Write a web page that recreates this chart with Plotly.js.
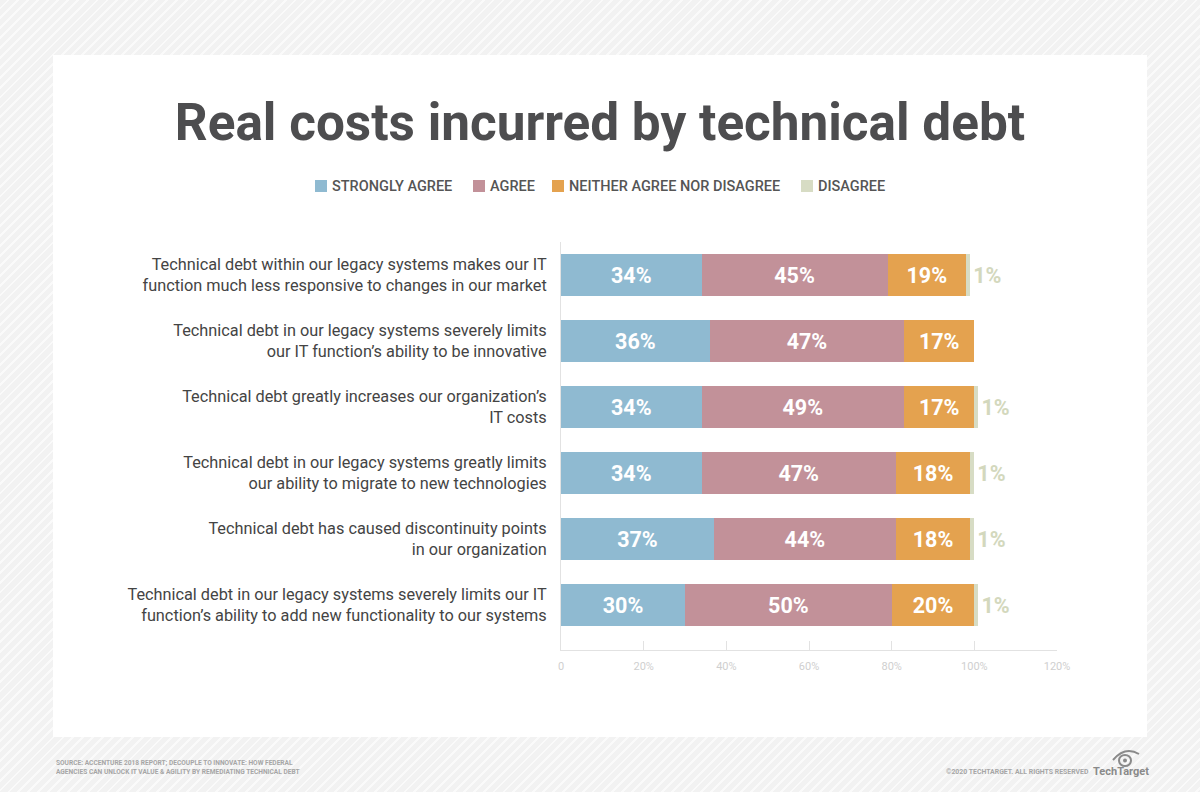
<!DOCTYPE html>
<html>
<head>
<meta charset="utf-8">
<script src="https://cdn.plot.ly/plotly-3.0.1.min.js"></script>
<style>
  html, body { margin: 0; padding: 0; }
  body {
    width: 1200px; height: 792px; overflow: hidden;
    background: repeating-linear-gradient(135deg, #f2f2f2 0px, #f2f2f2 5px, #fafafa 5px, #fafafa 7px);
  }
  #chart { width: 1200px; height: 792px; }
</style>
</head>
<body>
<div id="chart"></div>
<script>
var statements = [
  'Technical debt within our legacy systems makes our IT<br>function much less responsive to changes in our market',
  'Technical debt in our legacy systems severely limits<br>our IT function\u2019s ability to be innovative',
  'Technical debt greatly increases our organization\u2019s<br>IT costs',
  'Technical debt in our legacy systems greatly limits<br>our ability to migrate to new technologies',
  'Technical debt has caused discontinuity points<br>in our organization',
  'Technical debt in our legacy systems severely limits our IT<br>function\u2019s ability to add new functionality to our systems'
];
var seriesNames  = ['STRONGLY AGREE', 'AGREE', 'NEITHER AGREE NOR DISAGREE', 'DISAGREE'];
var seriesColors = ['#8fbad1', '#c29199', '#e4a24f', '#d7dcc4'];
var stronglyAgree = [34, 36, 34, 34, 37, 30];
var agree         = [45, 47, 49, 47, 44, 50];
var neither       = [19, 17, 17, 18, 18, 20];
var disagree      = [1, 0, 1, 1, 1, 1];

var tickVals = [0, 20, 40, 60, 80, 100, 120];
var tickText = ['0', '20%', '40%', '60%', '80%', '100%', '120%'];

// plot box in pixels, used to place the decorations
var L = 561, R = 1057, T = 242, B = 650;
function px(x) { return (x - L) / (R - L); }
function py(y) { return (B - y) / (B - T); }

var idx = statements.map(function (s, i) { return i; });

function pct(arr) {
  return arr.map(function (v) { return v > 0 ? v + '%' : ''; });
}

function series(k, vals, inside) {
  return {
    type: 'bar',
    orientation: 'h',
    name: seriesNames[k],
    x: vals,
    y: idx,
    marker: { color: seriesColors[k], line: { width: 0 } },
    text: pct(vals),
    textposition: inside ? 'inside' : 'outside',
    insidetextanchor: 'middle',
    constraintext: 'none',
    cliponaxis: false,
    textfont: {
      family: 'Roboto, sans-serif', size: 21.5, weight: 700,
      color: inside ? '#ffffff' : '#d3d8bd'
    },
    hoverinfo: 'skip'
  };
}

var data = [
  series(0, stronglyAgree, true),
  series(1, agree, true),
  series(2, neither, true),
  series(3, disagree, false)
];

// hand-built legend: square + label
var legendShapes = [], legendNotes = [];
var legendX = [315, 473, 552, 801], ly = 186;
seriesNames.forEach(function (nm, k) {
  var lx = legendX[k];
  legendShapes.push({ type: 'rect', xref: 'paper', yref: 'paper',
    x0: px(lx), x1: px(lx + 12), y0: py(ly + 6), y1: py(ly - 6),
    fillcolor: seriesColors[k], line: { width: 0 } });
  legendNotes.push({ xref: 'paper', yref: 'paper', x: px(lx + 15), y: py(ly),
    xanchor: 'left', yanchor: 'middle', showarrow: false, text: nm,
    font: { family: 'Roboto, sans-serif', size: 14.5, weight: 500, color: '#555' } });
});

var layout = {
  width: 1200,
  height: 792,
  paper_bgcolor: 'rgba(0,0,0,0)',
  plot_bgcolor: '#ffffff',
  margin: { l: L, r: 1200 - R, t: T, b: 792 - B, pad: 0 },
  barmode: 'stack',
  bargap: 0.36,
  showlegend: false,
  font: { family: 'Roboto, sans-serif', color: '#444' },
  title: {
    text: 'Real costs incurred by technical debt',
    font: { family: 'Roboto, sans-serif', size: 51.3, weight: 700, color: '#4d4d4f' },
    x: 0.5, xanchor: 'center', xref: 'container',
    y: 1 - 122 / 792, yanchor: 'middle', yref: 'container'
  },
  xaxis: {
    range: [0, 120],
    tickvals: tickVals,
    ticktext: tickText,
    ticks: 'inside',
    ticklen: 9,
    tickcolor: '#e2e2e2',
    ticklabelstandoff: 6,
    showgrid: false,
    zeroline: false,
    showline: true,
    linecolor: '#e2e2e2',
    linewidth: 1,
    tickfont: { family: 'Roboto, sans-serif', size: 11, color: '#cfcfcf' },
    fixedrange: true
  },
  yaxis: {
    range: [5.68, -0.5],
    tickvals: idx,
    ticktext: statements,
    ticks: '',
    showgrid: false,
    zeroline: false,
    showline: true,
    linecolor: '#e2e2e2',
    linewidth: 1,
    ticklabelstandoff: 10,
    tickfont: { family: 'Roboto, sans-serif', size: 16.3, color: '#444' },
    fixedrange: true
  },
  shapes: [
    // white panel
    { type: 'rect', xref: 'paper', yref: 'paper', layer: 'below',
      x0: px(53), x1: px(1147), y0: py(55), y1: py(737),
      fillcolor: '#ffffff', line: { width: 0 } },
    // logo eye: lid, iris, pupil
    { type: 'path', xref: 'paper', yref: 'paper',
      path: 'M ' + px(1113) + ' ' + py(760) + ' Q ' + px(1125) + ' ' + py(746) + ' ' + px(1139) + ' ' + py(754),
      line: { color: '#8a8a8a', width: 2 } },
    { type: 'circle', xref: 'paper', yref: 'paper',
      x0: px(1119), x1: px(1131), y0: py(766), y1: py(755),
      fillcolor: 'rgba(0,0,0,0)', line: { color: '#8a8a8a', width: 2 } },
    { type: 'circle', xref: 'paper', yref: 'paper',
      x0: px(1123), x1: px(1127), y0: py(762.5), y1: py(758.5),
      fillcolor: '#8a8a8a', line: { width: 0 } }
  ].concat(legendShapes),
  annotations: [
    { xref: 'paper', yref: 'paper', x: px(54), y: py(767), xanchor: 'left', yanchor: 'middle',
      align: 'left', showarrow: false,
      text: 'SOURCE: ACCENTURE 2018 REPORT; DECOUPLE TO INNOVATE: HOW FEDERAL<br>AGENCIES CAN UNLOCK IT VALUE &amp; AGILITY BY REMEDIATING TECHNICAL DEBT',
      font: { family: 'Roboto, sans-serif', size: 6.6, weight: 700, color: '#a6a6a6' } },
    { xref: 'paper', yref: 'paper', x: px(1091), y: py(772), xanchor: 'right', yanchor: 'middle',
      showarrow: false,
      text: '\u00a92020 TECHTARGET. ALL RIGHTS RESERVED',
      font: { family: 'Roboto, sans-serif', size: 6.9, weight: 700, color: '#a6a6a6' } },
    { xref: 'paper', yref: 'paper', x: px(1121), y: py(771), xanchor: 'center', yanchor: 'middle',
      showarrow: false,
      text: 'TechTarget',
      font: { family: 'Roboto, sans-serif', size: 11, weight: 700, color: '#8a8a8a' } }
  ].concat(legendNotes)
};

Plotly.newPlot('chart', data, layout, { staticPlot: true, displayModeBar: false });
</script>
</body>
</html>
